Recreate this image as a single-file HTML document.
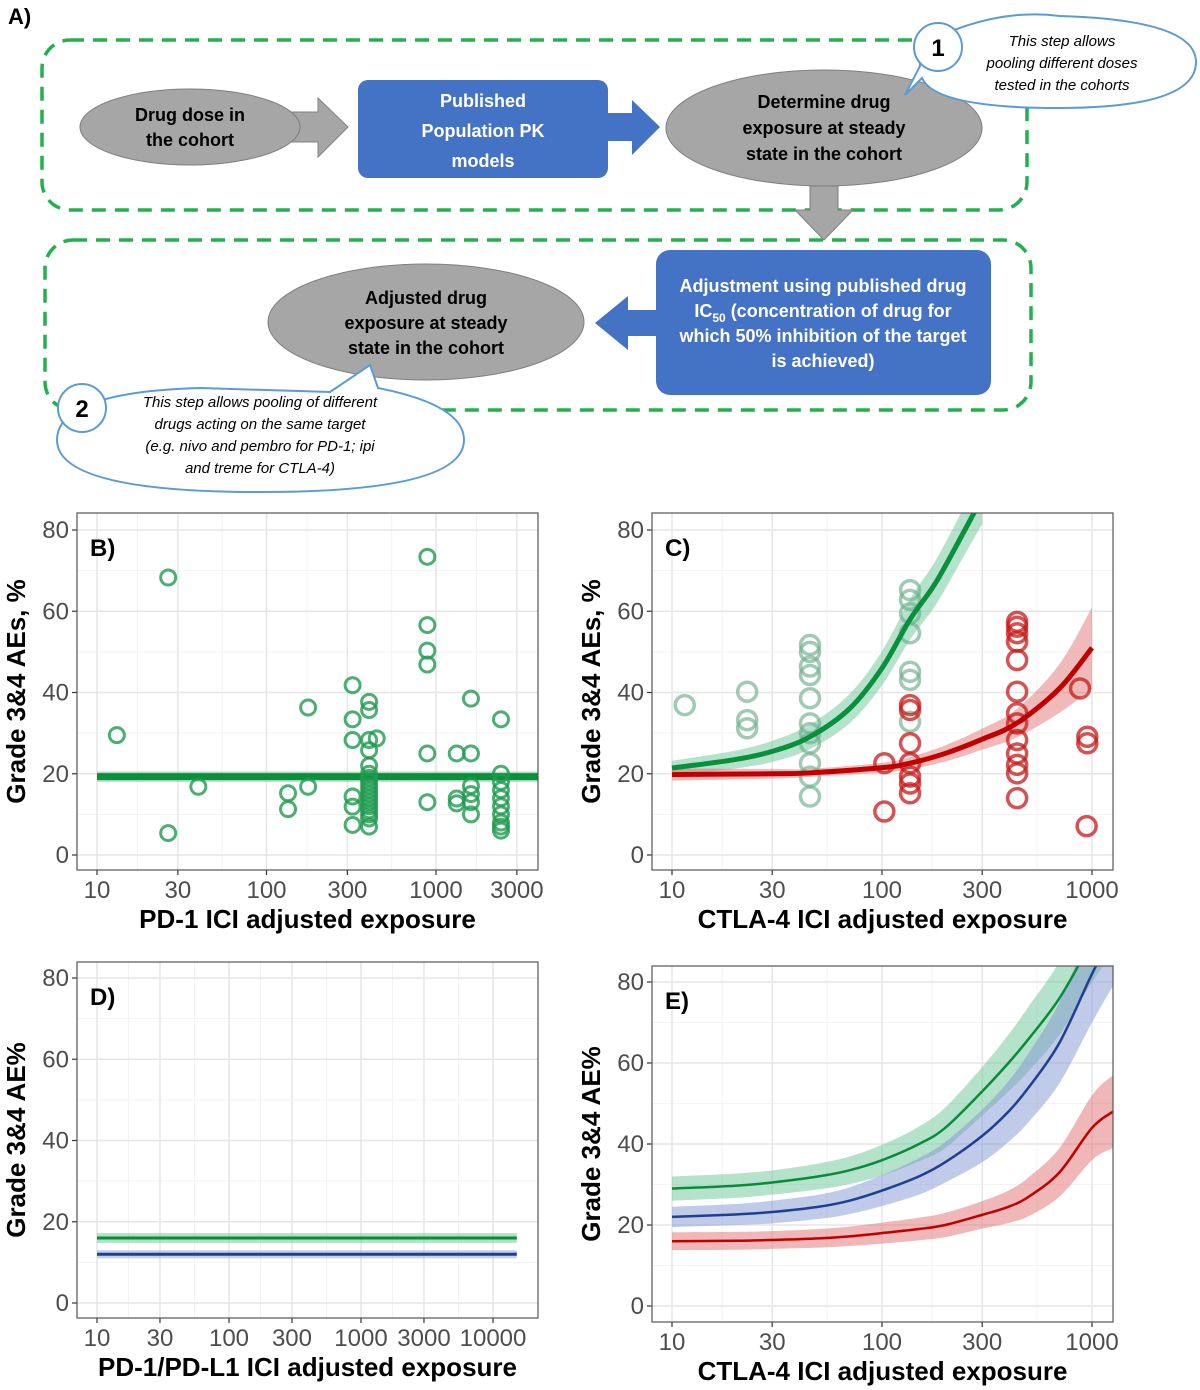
<!DOCTYPE html>
<html><head><meta charset="utf-8"><style>
html,body{margin:0;padding:0;background:#fff;}
svg{display:block;font-family:"Liberation Sans",sans-serif;}
.dg{font-weight:bold;font-size:18px;text-anchor:middle;}
.co{font-style:italic;font-size:15px;text-anchor:middle;}
.tk{font-size:24px;fill:#4d4d4d;}
.ttl{font-size:26px;font-weight:bold;fill:#000;}
</style></head><body>
<svg id="fig" width="1200" height="1390" viewBox="0 0 1200 1390">
<g id="diagram">
  <text x="8" y="24" font-size="22" font-weight="bold">A)</text>
  <rect x="42" y="40" width="985" height="170" rx="28" fill="none" stroke="#22b14c" stroke-width="3.5" stroke-dasharray="14 9"/>
  <rect x="45" y="240" width="986" height="170" rx="28" fill="none" stroke="#22b14c" stroke-width="3.5" stroke-dasharray="14 9"/>
  <polygon points="290,112 318,112 318,98 348,127 318,157 318,142 290,142" fill="#a6a6a6" stroke="#808080"/>
  <ellipse cx="190" cy="127" rx="110" ry="38" fill="#a6a6a6" stroke="#7f7f7f"/>
  <text class="dg" x="190" y="121"><tspan x="190">Drug dose in</tspan><tspan x="190" dy="25">the cohort</tspan></text>
  <rect x="358" y="80" width="250" height="98" rx="10" fill="#4472c4"/>
  <text class="dg" x="483" y="107" fill="#fff" font-size="20"><tspan x="483">Published</tspan><tspan x="483" dy="30">Population PK</tspan><tspan x="483" dy="30">models</tspan></text>
  <polygon points="608,113 632,113 632,100 660,127 632,155 632,141 608,141" fill="#4472c4"/>
  <ellipse cx="824" cy="128" rx="158" ry="58" fill="#a6a6a6" stroke="#7f7f7f"/>
  <text class="dg" x="824" y="108"><tspan x="824">Determine drug</tspan><tspan x="824" dy="26">exposure at steady</tspan><tspan x="824" dy="26">state in the cohort</tspan></text>
  <polygon points="810,186 838,186 838,210 853,210 824,240 795,210 810,210" fill="#a6a6a6" stroke="#808080"/>
  <rect x="656" y="250" width="335" height="145" rx="14" fill="#4472c4"/>
  <text class="dg" x="823" y="292" fill="#fff"><tspan x="823">Adjustment using published drug</tspan><tspan x="823" dy="25">IC<tspan font-size="12" dy="5">50</tspan><tspan dy="-5"> (concentration of drug for</tspan></tspan><tspan x="823" dy="25">which 50% inhibition of the target</tspan><tspan x="823" dy="25">is achieved)</tspan></text>
  <polygon points="656,310 628,310 628,296 595,323 628,350 628,336 656,336" fill="#4472c4"/>
  <ellipse cx="426" cy="322" rx="158" ry="58" fill="#a6a6a6" stroke="#7f7f7f"/>
  <text class="dg" x="426" y="304"><tspan x="426">Adjusted drug</tspan><tspan x="426" dy="25">exposure at steady</tspan><tspan x="426" dy="25">state in the cohort</tspan></text>
  <path d="M935,38 Q1000,8 1060,16 Q1196,20 1196,62 Q1196,108 1058,108 Q935,108 922,78 L905,95 L920,66 Q918,50 935,38 Z" fill="#fff" stroke="#5b9bd5" stroke-width="2"/>
  <text class="co" x="1062" y="46"><tspan x="1062">This step allows</tspan><tspan x="1062" dy="22">pooling different doses</tspan><tspan x="1062" dy="22">tested in the cohorts</tspan></text>
  <circle cx="938" cy="47" r="24" fill="#fff" stroke="#5b9bd5" stroke-width="2"/>
  <text x="938" y="56" font-size="24" font-weight="bold" text-anchor="middle">1</text>
  <path d="M330,392 L370,365 L378,388 Q464,405 464,440 Q464,492 260,492 Q57,492 57,440 Q57,392 200,388 Z" fill="#fff" stroke="#5b9bd5" stroke-width="2"/>
  <text class="co" x="260" y="407"><tspan x="260">This step allows pooling of different</tspan><tspan x="260" dy="22">drugs acting on the same target</tspan><tspan x="260" dy="22">(e.g. nivo and pembro for PD-1; ipi</tspan><tspan x="260" dy="22">and treme for CTLA-4)</tspan></text>
  <circle cx="82" cy="408" r="24" fill="#fff" stroke="#5b9bd5" stroke-width="2"/>
  <text x="82" y="417" font-size="24" font-weight="bold" text-anchor="middle">2</text>
</g>
<g id="charts"></g>
</svg>
<script>
// ---- Panel B data (PD-1) ----
const bExposure = [13.1,26.3,26.3,39.6,134,134,176,176,322,322,322,322,322,322,403,403,403,403,403,403,403,403,403,403,403,403,403,403,403,403,403,403,447,889,889,889,889,889,889,1325,1325,1325,1608,1608,1608,1608,1608,1608,2417,2417,2417,2417,2417,2417,2417,2417,2417,2417];
const bAE = [29.5,68.3,5.4,16.8,15.2,11.3,36.3,16.8,41.8,33.4,28.3,14.4,11.9,7.4,37.7,35.7,28.3,25.8,22,20,19,18,17,16,15,14,13,12,11,10,9,7,28.7,73.4,56.6,50.3,46.9,25,13,25,13.9,12.7,38.5,25,17,15,13,10,33.4,20,18,16,14,12,10,8,7,6];
const bFitX = [10,15000];
const bFitY = [19.3,19.3];
const bFitCI = [1.3,1.3];
// ---- Panel C data (CTLA-4) ----
const cIpiExposure = [11.5,22.8,22.8,22.8,45.4,45.4,45.4,45.4,45.4,45.4,45.4,45.4,45.4,45.4,45.4,136,136,136,136,136,136,136];
const cIpiAE = [36.9,40.2,33.2,31.2,51.7,50,46.4,44.3,38.6,32.4,30,27.5,22.6,19.3,14.4,65.2,62.8,59.5,54.6,45.1,43.1,32.8];
const cTremeExposure = [102.6,102.6,136,136,136,136,136,136,136,440,440,440,440,440,440,440,440,440,440,440,440,440,877,950,950,943];
const cTremeAE = [22.6,10.7,36.9,35.7,27.5,22.6,19.3,17.6,15.2,57.4,56.2,54.6,52.5,48,40.2,34.9,32.4,28.3,25,22.2,20.1,14,41,27.5,29.1,7.1];
const cFitX = [10,20,30,45,70,100,136,180,248,300];
const cIpiFit = [21.4,23.5,25.5,29,36,46,58,67,80,88];
const cIpiCI = [1.8,2.2,2.6,3,3.6,4.2,5,5.5,6,6.5];
const cRedX = [10,30,45,100,136,200,300,440,700,1000];
const cTremeFit = [19.8,20,20.2,21.5,22.6,25,28.5,32.5,41,51];
const cTremeCI = [1.5,1.2,1,1.2,1.5,2,2.6,3.5,6,10];
// ---- Panel D data ----
const dX = [10,15150];
const dGreen = [16,16];
const dBlue = [12,12];
// ---- Panel E data ----
const eX = [10,20,30,50,70,100,150,200,300,400,500,700,1000,1259];
const eGreen = [29,29.7,30.5,32,33.5,36,40,44,53,60,66,76,90,98];
const eGreenCI = [3,3,3,3.2,3.4,3.8,4.3,5,6,7,8,9,10,11];
const eBlue = [22,22.6,23.2,24.5,26,28.5,32,35.5,42,48,54,65,82,92];
const eBlueCI = [2.5,2.6,2.8,3,3.3,3.8,4.5,5,6.5,7.5,8.5,10,12,13];
const eRed = [16,16.1,16.3,16.7,17.2,18,19,20,22.5,24.5,27,33,44,48];
const eRedCI = [2.2,2.2,2.2,2.3,2.4,2.6,2.8,3,3.4,4,4.8,6,8,9];
const yTicks = [0,20,40,60,80];
const bTicks = [10,30,100,300,1000,3000];
const cTicks = [10,30,100,300,1000];
const dTicks = [10,30,100,300,1000,3000,10000];
const dTickLabels = ["10","30","100","300","1000","3000","10000"];

const NS="http://www.w3.org/2000/svg";
const root=document.getElementById('charts');
function mk(tag,attrs,parent){const e=document.createElementNS(NS,tag);for(const k in attrs)e.setAttribute(k,attrs[k]);(parent||root).appendChild(e);return e;}
function smooth(P){ // Catmull-Rom -> cubic bezier
  let d='M'+P[0][0]+','+P[0][1];
  for(let i=0;i<P.length-1;i++){const p0=P[i-1]||P[i],p1=P[i],p2=P[i+1],p3=P[i+2]||p2;
    d+=`C${p1[0]+(p2[0]-p0[0])/6},${p1[1]+(p2[1]-p0[1])/6} ${p2[0]-(p3[0]-p1[0])/6},${p2[1]-(p3[1]-p1[1])/6} ${p2[0]},${p2[1]}`;}
  return d;
}
function panel(o){
  const g=mk('g',{});
  
  
  const sx=v=>o.x10+(Math.log10(v)-1)*o.dec;
  const sy=v=>o.y0-v*o.ppu;
  const bg=mk('rect',{x:o.L,y:o.T,width:o.R-o.L,height:o.B-o.T,fill:'#fff'},g);
  
  
  for(const v of [10,30,50,70]){const l=mk('line',{x1:o.L,x2:o.R,y1:sy(v),y2:sy(v),stroke:'#f3f3f3','stroke-width':1},g);}
  for(let i=0;i<o.ticks.length-1;i++){const m=(Math.log10(o.ticks[i])+Math.log10(o.ticks[i+1]))/2;const x=sx(Math.pow(10,m));const l=mk('line',{x1:x,x2:x,y1:o.T,y2:o.B,stroke:'#f3f3f3','stroke-width':1},g);}
  for(const v of yTicks){const y=sy(v);const l=mk('line',{x1:o.L,x2:o.R,y1:y,y2:y,stroke:'#e6e6e6','stroke-width':1.5},g);
    const t=mk('line',{x1:o.L-5,x2:o.L,y1:y,y2:y,stroke:'#333','stroke-width':1.2},g);
    const tx=mk('text',{x:o.L-8,y:y+8,'text-anchor':'end',class:'tk'},g);tx.textContent=v;}
  o.ticks.forEach((v,i)=>{const x=sx(v);const l=mk('line',{x1:x,x2:x,y1:o.T,y2:o.B,stroke:'#e6e6e6','stroke-width':1.5},g);
    const t=mk('line',{x1:x,x2:x,y1:o.B,y2:o.B+5,stroke:'#333','stroke-width':1.2},g);
    const tx=mk('text',{x:x,y:o.B+28,'text-anchor':'middle',class:'tk'},g);tx.textContent=o.labels?o.labels[i]:v;});
  const clipId='clip'+o.name;
  const cp=mk('clipPath',{id:clipId},g);mk('rect',{x:o.L,y:o.T,width:o.R-o.L,height:o.B-o.T},cp);
  const inner=mk('g',{'clip-path':'url(#'+clipId+')'},g);
  
  
  o.draw(inner,sx,sy);
  const br=mk('rect',{x:o.L,y:o.T,width:o.R-o.L,height:o.B-o.T,fill:'none',stroke:'#555','stroke-width':1.2},g);
  
  const pl=mk('text',{x:o.L+13,y:o.T+43,'font-size':24,'font-weight':'bold'},g);pl.textContent=o.label;
  
  const xt=mk('text',{x:(o.L+o.R)/2,y:o.B+58,'text-anchor':'middle',class:'ttl'},g);xt.textContent=o.xtitle;
  
  const cy=(o.T+o.B)/2;
  const yt=mk('text',{x:o.L-52,y:cy,'text-anchor':'middle',class:'ttl',transform:`rotate(-90 ${o.L-52} ${cy})`},g);yt.textContent=o.ytitle;
  
}
function band(g,sx,sy,xs,ys,ci,fill,op,name){
  const up=xs.map((x,i)=>[sx(x),sy(ys[i]+ci[i])]);
  const lo=xs.map((x,i)=>[sx(x),sy(ys[i]-ci[i])]).reverse();
  const d=smooth(up)+'L'+smooth(lo).slice(1)+'Z';
  const p=mk('path',{d:d,fill:fill,'fill-opacity':op},g);
}
function line(g,sx,sy,xs,ys,col,w,name){
  const d=smooth(xs.map((x,i)=>[sx(x),sy(ys[i])]));
  const p=mk('path',{d:d,fill:'none',stroke:col,'stroke-width':w},g);
}
function pts(g,sx,sy,xs,ys,col,r,w,op,name){
  xs.forEach((x,i)=>{const c=mk('circle',{cx:sx(x),cy:sy(ys[i]),r:r,fill:'none',stroke:col,'stroke-width':w,'stroke-opacity':op},g);
    });
}
panel({name:'panel-b-pd1',label:'B)',L:77,R:538,T:513,B:870,x10:97,dec:169.5,y0:855,ppu:4.0625,ticks:bTicks,
  xtitle:'PD-1 ICI adjusted exposure',ytitle:'Grade 3&4 AEs, %',
  draw:(g,sx,sy)=>{band(g,sx,sy,bFitX,bFitY,bFitCI,'#7fcf9a',0.6,'fit-ci-band');
    line(g,sx,sy,bFitX,bFitY,'#08903c',7,'fit-line');
    pts(g,sx,sy,bExposure,bAE,'#1f9a4f',7.5,3,0.8,'cohort-point');}});
panel({name:'panel-c-ctla4',label:'C)',L:652,R:1113,T:513,B:870,x10:672,dec:210,y0:855,ppu:4.0625,ticks:cTicks,
  xtitle:'CTLA-4 ICI adjusted exposure',ytitle:'Grade 3&4 AEs, %',
  draw:(g,sx,sy)=>{band(g,sx,sy,cFitX,cIpiFit,cIpiCI,'#6cc596',0.5,'ipi-ci-band');
    band(g,sx,sy,cRedX,cTremeFit,cTremeCI,'#dd6666',0.45,'treme-ci-band');
    pts(g,sx,sy,cIpiExposure,cIpiAE,'#6fae8c',9.5,3.5,0.65,'ipi-point');
    pts(g,sx,sy,cTremeExposure,cTremeAE,'#c81818',9.5,3.5,0.75,'treme-point');
    line(g,sx,sy,cFitX,cIpiFit,'#08903c',5,'ipi-fit-line');
    line(g,sx,sy,cRedX,cTremeFit,'#c00000',5,'treme-fit-line');}});
panel({name:'panel-d-pd1-pdl1',label:'D)',L:77,R:538,T:962,B:1318,x10:97,dec:132,y0:1303,ppu:4.0625,ticks:dTicks,labels:dTickLabels,
  xtitle:'PD-1/PD-L1 ICI adjusted exposure',ytitle:'Grade 3&4 AE%',
  draw:(g,sx,sy)=>{band(g,sx,sy,dX,dGreen,[1.2,1.2],'#7fcf9a',0.6,'green-ci-band');
    band(g,sx,sy,dX,dBlue,[1,1],'#9fb0dd',0.6,'blue-ci-band');
    line(g,sx,sy,dX,dGreen,'#0a8a3c',3,'green-fit-line');
    line(g,sx,sy,dX,dBlue,'#1f3f8f',3,'blue-fit-line');}});
panel({name:'panel-e-ctla4',label:'E)',L:652,R:1113,T:966,B:1322,x10:672,dec:210,y0:1306,ppu:4.05,ticks:cTicks,
  xtitle:'CTLA-4 ICI adjusted exposure',ytitle:'Grade 3&4 AE%',
  draw:(g,sx,sy)=>{band(g,sx,sy,eX,eGreen,eGreenCI,'#6cc596',0.5,'green-ci-band');
    band(g,sx,sy,eX,eBlue,eBlueCI,'#8196d4',0.5,'blue-ci-band');
    band(g,sx,sy,eX,eRed,eRedCI,'#e07070',0.5,'red-ci-band');
    line(g,sx,sy,eX,eGreen,'#0a8a3c',2.5,'green-fit-line');
    line(g,sx,sy,eX,eBlue,'#1f3f8f',2.5,'blue-fit-line');
    line(g,sx,sy,eX,eRed,'#c00000',2.5,'red-fit-line');}});
</script>
</body></html>
